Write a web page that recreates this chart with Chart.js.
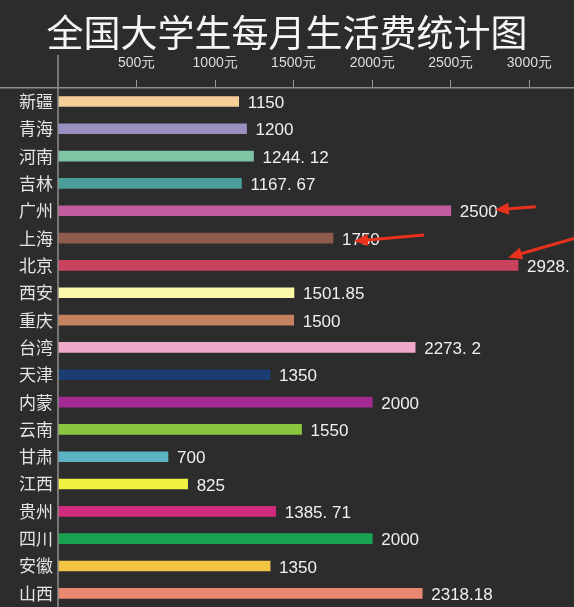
<!DOCTYPE html>
<html>
<head>
<meta charset="utf-8">
<script src="https://cdn.jsdelivr.net/npm/chart.js@4"></script>
<style>
  html, body { margin: 0; background: #2c2c2c; }
  #wrap { width: 574px; height: 607px; }
</style>
</head>
<body>
<div id="wrap"><canvas id="myChart"></canvas></div>
<script>
// provinces / cities, top to bottom
const provinces = ['新疆', '青海', '河南', '吉林', '广州', '上海', '北京', '西安', '重庆', '台湾',
                   '天津', '内蒙', '云南', '甘肃', '江西', '贵州', '四川', '安徽', '山西'];
// monthly spending (yuan)
const spending = [1150, 1200, 1244.12, 1167.67, 2500, 1750, 2928, 1501.85, 1500, 2273.2,
                  1350, 2000, 1550, 700, 825, 1385.71, 2000, 1350, 2318.18];
// value labels as printed in the picture
const valueLabels = ['1150', '1200', '1244. 12', '1167. 67', '2500', '1750', '2928.', '1501.85', '1500', '2273. 2',
                     '1350', '2000', '1550', '700', '825', '1385. 71', '2000', '1350', '2318.18'];
// axis ticks on top
const tickValues = [500, 1000, 1500, 2000, 2500, 3000];
const barColors = ['#f6cf98', '#9a8fc0', '#7ec6a6', '#4b9d9a', '#c25c9e', '#8e5c4c', '#c9425e', '#fbf9a8', '#c4825f', '#f0a9c8',
                   '#1b3d72', '#a22a92', '#8bc43f', '#5bb3c4', '#f2f043', '#d22a7c', '#1aa152', '#f2c443', '#e98a70'];
// red arrows pointing at three bars
const arrowBars = [4, 5, 6];

const decorPlugin = {
    id: 'decor',
    beforeDraw(chart) {
        const c = chart.ctx;
        c.save();
        c.fillStyle = '#2c2c2c';
        c.fillRect(0, 0, chart.width, chart.height);
        c.restore();
    },
    afterDraw(chart) {
        const c = chart.ctx, a = chart.chartArea;
        c.save();
        // axis lines
        c.strokeStyle = '#8c8c8c';
        c.lineWidth = 1.5;
        c.beginPath();
        c.moveTo(0, a.top); c.lineTo(chart.width, a.top);
        c.moveTo(a.left, 55); c.lineTo(a.left, a.bottom);
        c.stroke();
        // value labels
        const meta = chart.getDatasetMeta(0);
        c.fillStyle = '#f0f0f0';
        c.font = '17px "Liberation Sans", Arial, sans-serif';
        c.textBaseline = 'middle';
        c.textAlign = 'left';
        meta.data.forEach((bar, i) => {
            c.fillText(valueLabels[i], bar.x + 9, bar.y + 2);
        });
        // arrows
        const shapes = {
            4: [[85, -4], [44, -1]],
            5: [[91, -3], [21, 3]],
            6: [[56, -27], [-10, -8]]
        };
        c.fillStyle = '#e8321e';
        c.strokeStyle = '#e8321e';
        arrowBars.forEach(i => {
            const bar = meta.data[i];
            const [t, h] = shapes[i];
            const x1 = bar.x + t[0], y1 = bar.y + t[1];
            const x2 = bar.x + h[0], y2 = bar.y + h[1];
            const ang = Math.atan2(y2 - y1, x2 - x1);
            c.lineWidth = 3;
            c.beginPath();
            c.moveTo(x1, y1);
            c.lineTo(x2 - 8 * Math.cos(ang), y2 - 8 * Math.sin(ang));
            c.stroke();
            c.beginPath();
            c.moveTo(x2, y2);
            c.lineTo(x2 - 14 * Math.cos(ang) + 6 * Math.sin(ang), y2 - 14 * Math.sin(ang) - 6 * Math.cos(ang));
            c.lineTo(x2 - 14 * Math.cos(ang) - 6 * Math.sin(ang), y2 - 14 * Math.sin(ang) + 6 * Math.cos(ang));
            c.closePath();
            c.fill();
        });
        c.restore();
    }
};

new Chart('myChart', {
    type: 'bar',
    data: {
        labels: provinces,
        datasets: [{
            data: spending,
            backgroundColor: barColors,
            barThickness: 10,
            borderWidth: 0
        }]
    },
    options: {
        indexAxis: 'y',
        responsive: true,
        maintainAspectRatio: false,
        animation: false,
        layout: { padding: 0 },
        plugins: {
            legend: { display: false },
            tooltip: { enabled: false },
            title: {
                display: true,
                text: '全国大学生每月生活费统计图',
                color: '#f5f5f5',
                font: { family: '"Noto Sans CJK SC"', size: 37, weight: 'normal', lineHeight: 1 },
                padding: { top: 14, bottom: -4 }
            }
        },
        scales: {
            x: {
                position: 'top',
                min: 0,
                max: 3284,
                border: { display: false },
                grid: { drawOnChartArea: false, tickLength: 8, tickColor: '#9a9a9a' },
                afterBuildTicks: s => { s.ticks = tickValues.map(v => ({ value: v })); },
                ticks: {
                    autoSkip: false,
                    maxRotation: 0,
                    color: '#dedede',
                    padding: 8,
                    font: { family: '"Liberation Sans"', size: 14 },
                    callback: v => v + '元'
                }
            },
            y: {
                border: { display: false },
                grid: { display: false, drawTicks: false },
                afterFit: s => { s.width = 58; s.paddingTop = 0; s.paddingBottom = 0; },
                ticks: {
                    color: '#e4e4e4',
                    padding: 5,
                    font: { family: '"Noto Sans CJK SC"', size: 17 }
                }
            }
        }
    },
    plugins: [decorPlugin]
});
</script>
</body>
</html>
